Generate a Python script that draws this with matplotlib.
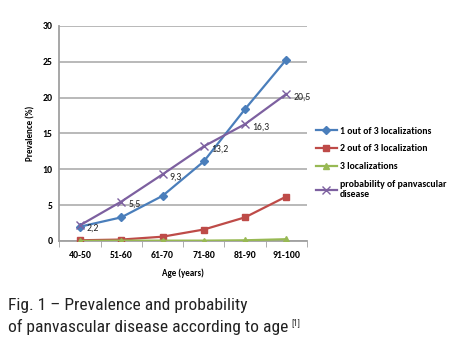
import matplotlib
matplotlib.use("Agg")
import matplotlib.pyplot as plt
import numpy as np

categories = ["40-50", "51-60", "61-70", "71-80", "81-90", "91-100"]
one_of_three = [2.0, 3.3, 6.3, 11.1, 18.4, 25.3]
two_of_three = [0.1, 0.2, 0.6, 1.6, 3.3, 6.2]
three_loc = [0.0, 0.05, 0.05, 0.05, 0.1, 0.25]
prob_panvascular = [2.2, 5.5, 9.3, 13.2, 16.3, 20.5]
prob_labels = ["2,2", "5,5", "9,3", "13,2", "16,3", "20,5"]
yticks = [0, 5, 10, 15, 20, 25, 30]

chart_font = ["Carlito", "Lato", "DejaVu Sans"]
caption_font = ["Roboto Condensed", "Archivo Narrow", "DejaVu Sans"]
plt.rcParams['font.family'] = chart_font

fig = plt.figure(figsize=(4.74, 3.43), dpi=100)
ax = fig.add_axes([0.1255, 0.2974, 0.522, 0.627])

x = np.arange(len(categories))
ax.plot(x, one_of_three, color="#4a7ebb", marker="D", ms=4.5, lw=1.6,
        label="1 out of 3 localizations", zorder=3)
ax.plot(x, two_of_three, color="#be4b48", marker="s", ms=5, lw=1.6,
        label="2 out of 3 localization", zorder=3)
ax.plot(x, three_loc, color="#98b954", marker="^", ms=5, lw=1.6,
        label="3 localizations", zorder=3)
ax.plot(x, prob_panvascular, color="#7d60a0", marker="x", ms=5.5, mew=1.0, lw=1.6,
        label="probability of panvascular\ndisease", zorder=3)

for xi, yi, lab in zip(x, prob_panvascular, prob_labels):
    ax.annotate(lab, (xi, yi), xytext=(5, -2), textcoords="offset points",
                ha="left", va="center", fontsize=7, color="#222222")

ax.set_xlim(-0.5, len(categories) - 0.5)
ax.set_ylim(0, 30)
ax.set_yticks(yticks)
ax.set_xticks(x)
ax.set_xticklabels(categories)
ax.set_xticks(np.arange(-0.5, len(categories)), minor=True)
ax.tick_params(axis="x", which="major", length=0, pad=7, labelsize=7)
ax.tick_params(axis="x", which="minor", length=4, color="#a0a0a0", direction="out")
ax.tick_params(axis="y", length=0, pad=5, labelsize=7)
for lab in ax.get_xticklabels() + ax.get_yticklabels():
    lab.set_fontweight("bold")

ax.grid(axis="y", color="#b3b3b3", lw=1.3)
ax.set_axisbelow(True)
for s in ["top", "right"]:
    ax.spines[s].set_visible(False)
for s in ["left", "bottom"]:
    ax.spines[s].set_color("#a0a0a0")
    ax.spines[s].set_linewidth(1.3)

ax.set_ylabel("Prevalence (%)", fontsize=6.5, fontweight="bold", labelpad=5)
ax.set_xlabel("Age (years)", fontsize=6.5, fontweight="bold", labelpad=6)

leg = ax.legend(loc="upper left", bbox_to_anchor=(1.02, 0.55), frameon=False,
                fontsize=7, handlelength=2.2, handletextpad=0.3,
                labelspacing=0.9, borderaxespad=0)
for t in leg.get_texts():
    t.set_fontweight("bold")

fig.text(0.017, 0.096, "Fig. 1 \u2013 Prevalence and probability",
         fontsize=12.6, family=caption_font, color="#222222", va="baseline")
t2 = fig.text(0.017, 0.033, "of panvascular disease according to age",
         fontsize=12.6, family=caption_font, color="#222222", va="baseline")
fig.canvas.draw()
bb = t2.get_window_extent()
fig.text((bb.x1 + 3) / fig.bbox.width, 0.052, "[1]", fontsize=6.5,
         family=caption_font, color="#222222", va="baseline")

fig.savefig("out.png", dpi=100)
